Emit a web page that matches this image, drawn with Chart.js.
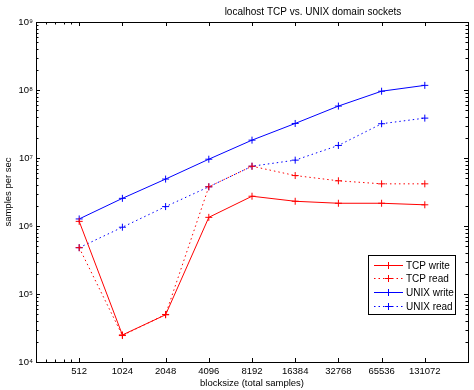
<!DOCTYPE html>
<html>
<head>
<meta charset="utf-8">
<script src="https://cdn.jsdelivr.net/npm/chart.js@4"></script>
<style>
  html, body { margin: 0; padding: 0; background: #fff; }
  #wrap { width: 474px; height: 390px; }
</style>
</head>
<body>
<div id="wrap"><canvas id="myChart" width="474" height="390"></canvas></div>
<script>
const blockSizes = [512, 1024, 2048, 4096, 8192, 16384, 32768, 65536, 131072];
const tcpWrite = [1.17e6, 2.5e4, 4.95e4, 1.34e6, 2.74e6, 2.31e6, 2.16e6, 2.16e6, 2.05e6];
const tcpRead = [4.8e5, 2.45e4, 5.0e4, 3.77e6, 7.57e6, 5.52e6, 4.62e6, 4.17e6, 4.17e6];
const unixWrite = [1.27e6, 2.55e6, 4.9e6, 9.6e6, 1.83e7, 3.22e7, 5.8e7, 9.6e7, 1.17e8];
const unixRead = [4.8e5, 9.6e5, 1.93e6, 3.77e6, 7.57e6, 9.3e6, 1.53e7, 3.19e7, 3.86e7];
const yTicks = [1e4, 1e5, 1e6, 1e7, 1e8, 1e9];
const xMinorTicks = [300, 350, 400, 450];
const seriesNames = ['TCP write', 'TCP read', 'UNIX write', 'UNIX read'];

const FONT = '"Liberation Sans", Arial, Helvetica, sans-serif';
const sup = { '4': '\u2074', '5': '\u2075', '6': '\u2076', '7': '\u2077', '8': '\u2078', '9': '\u2079' };

function pts(arr) {
    return blockSizes.map((b, i) => ({ x: b, y: arr[i] }));
}

function series(label, arr, color, dotted) {
    return {
        label: label,
        data: pts(arr),
        borderColor: color,
        backgroundColor: color,
        borderWidth: 1,
        borderDash: dotted ? [1.5, 3] : [],
        pointStyle: 'cross',
        pointRadius: 3.5,
        pointBorderWidth: 1,
        pointBorderColor: color,
        tension: 0,
        fill: false,
    };
}

const data = {
    datasets: [
        series(seriesNames[0], tcpWrite, 'rgb(255,0,0)', false),
        series(seriesNames[1], tcpRead, 'rgb(255,0,0)', true),
        series(seriesNames[2], unixWrite, 'rgb(0,0,255)', false),
        series(seriesNames[3], unixRead, 'rgb(0,0,255)', true),
    ],
};

// frame, inward ticks, title and legend in the MATLAB style
const matlabStyle = {
    id: 'matlabStyle',
    afterDraw(chart) {
        const ctx = chart.ctx;
        const a = chart.chartArea;
        const xs = chart.scales.x;
        const ys = chart.scales.y;
        ctx.save();
        ctx.strokeStyle = '#000';
        ctx.lineWidth = 1;
        ctx.setLineDash([]);
        ctx.strokeRect(Math.round(a.left) + 0.5, Math.round(a.top) + 0.5,
            Math.round(a.right - a.left), Math.round(a.bottom - a.top));

        ctx.beginPath();
        blockSizes.forEach(v => {
            const px = Math.round(xs.getPixelForValue(v)) + 0.5;
            ctx.moveTo(px, a.bottom); ctx.lineTo(px, a.bottom - 4);
            ctx.moveTo(px, a.top); ctx.lineTo(px, a.top + 4);
        });
        xMinorTicks.forEach(v => {
            const px = Math.round(xs.getPixelForValue(v)) + 0.5;
            ctx.moveTo(px, a.bottom); ctx.lineTo(px, a.bottom - 2.5);
            ctx.moveTo(px, a.top); ctx.lineTo(px, a.top + 2.5);
        });
        yTicks.forEach((v, i) => {
            const py = Math.round(ys.getPixelForValue(v)) + 0.5;
            ctx.moveTo(a.left, py); ctx.lineTo(a.left + 4, py);
            ctx.moveTo(a.right, py); ctx.lineTo(a.right - 4, py);
            if (i < yTicks.length - 1) {
                for (let m = 2; m <= 9; m++) {
                    const pm = Math.round(ys.getPixelForValue(v * m)) + 0.5;
                    ctx.moveTo(a.left, pm); ctx.lineTo(a.left + 2.5, pm);
                    ctx.moveTo(a.right, pm); ctx.lineTo(a.right - 2.5, pm);
                }
            }
        });
        ctx.stroke();

        // title
        ctx.fillStyle = '#000';
        ctx.font = '10px ' + FONT;
        ctx.textAlign = 'center';
        ctx.textBaseline = 'middle';
        ctx.fillText('localhost TCP vs. UNIX domain sockets', 313, 12);

        // legend
        const bx = a.right - 100, by = a.bottom - 107, bw = 87, bh = 59;
        ctx.fillStyle = '#fff';
        ctx.fillRect(bx, by, bw, bh);
        ctx.strokeStyle = '#000';
        ctx.strokeRect(Math.round(bx) + 0.5, Math.round(by) + 0.5, bw, bh);
        chart.data.datasets.forEach((ds, i) => {
            const cy = Math.round(by + 9.5 + i * 13.8) + 0.5;
            ctx.strokeStyle = ds.borderColor;
            ctx.lineWidth = 1;
            ctx.setLineDash(ds.borderDash);
            ctx.beginPath();
            ctx.moveTo(bx + 6, cy); ctx.lineTo(bx + 35, cy);
            ctx.stroke();
            ctx.setLineDash([]);
            const mx = Math.round(bx + 20) + 0.5;
            ctx.beginPath();
            ctx.moveTo(mx - 3.5, cy); ctx.lineTo(mx + 3.5, cy);
            ctx.moveTo(mx, cy - 3.5); ctx.lineTo(mx, cy + 3.5);
            ctx.stroke();
            ctx.fillStyle = '#000';
            ctx.textAlign = 'left';
            ctx.fillText(ds.label, bx + 38, cy + 0.5);
        });
        ctx.restore();
    },
};

const config = {
    type: 'line',
    data: data,
    options: {
        responsive: false,
        animation: false,
        events: [],
        layout: { padding: { top: 22, right: 6, left: 0, bottom: 0 } },
        plugins: {
            legend: { display: false },
            title: { display: false },
            tooltip: { enabled: false },
        },
        scales: {
            x: {
                type: 'logarithmic',
                min: 256,
                max: 262144,
                grid: { display: false, drawTicks: false },
                border: { display: false },
                afterBuildTicks: (scale) => {
                    scale.ticks = blockSizes.map(v => ({ value: v }));
                },
                afterFit: (scale) => { scale.height = 28; },
                ticks: {
                    color: '#000',
                    padding: 4,
                    maxRotation: 0,
                    autoSkip: false,
                    font: { family: FONT, size: 9.5 },
                    callback: (v) => String(v),
                },
                title: {
                    display: true,
                    text: 'blocksize (total samples)',
                    color: '#000',
                    padding: { top: 0, bottom: 1 },
                    font: { family: FONT, size: 9.5 },
                },
            },
            y: {
                type: 'logarithmic',
                min: 1e4,
                max: 1e9,
                grid: { display: false, drawTicks: false },
                border: { display: false },
                afterBuildTicks: (scale) => {
                    scale.ticks = yTicks.map(v => ({ value: v }));
                },
                afterFit: (scale) => { scale.width = 36; },
                ticks: {
                    color: '#000',
                    padding: 3,
                    autoSkip: false,
                    font: { family: FONT, size: 9.5 },
                    callback: (v) => '10' + sup[String(Math.round(Math.log10(v)))],
                },
                title: {
                    display: true,
                    text: 'samples per sec',
                    color: '#000',
                    padding: { top: 3, bottom: 0 },
                    font: { family: FONT, size: 9.5 },
                },
            },
        },
    },
    plugins: [matlabStyle],
};

const ctx = document.getElementById('myChart').getContext('2d');
const myChart = new Chart(ctx, config);
</script>
</body>
</html>
